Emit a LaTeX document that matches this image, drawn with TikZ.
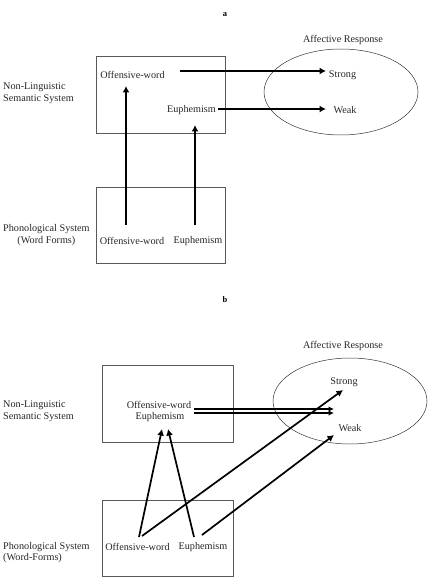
\documentclass[tikz,border=0pt]{standalone}
\usepackage{fontspec}
\setmainfont{Liberation Serif}
\usetikzlibrary{arrows.meta,shapes.geometric}
\begin{document}
\begin{tikzpicture}[x=1pt,y=-1pt,
  txt/.style={font=\fontsize{10.2}{11.5}\selectfont, inner sep=0pt, text=black!85},
  lbl/.style={font=\fontsize{10.2}{11.5}\selectfont, inner sep=0pt, text=black!85},
  panel/.style={font=\bfseries\fontsize{8.5}{9}\selectfont, inner sep=0pt},
  sysbox/.style={draw=black!65, line width=0.7pt, inner sep=0pt, minimum width=#1},
  resp/.style={draw=black!80, line width=0.5pt, ellipse, minimum width=154pt, minimum height=86pt, inner sep=0pt},
  arr/.style={line width=1.7pt, -{Latex[length=6.5pt,width=7pt]}},
  darr/.style={line width=1.2pt, -{Latex[length=5.5pt,width=5.5pt]}}]
\useasboundingbox (0,0) rectangle (430,580);
% ---------- panel a ----------
\node[panel] (pa) at (225,15) {a};
\node[txt] (aresp) at (343,40) {Affective Response};
\node[resp] (aell) at (341,92) {};
\node[sysbox=129pt, minimum height=77pt] (asem) at (160.5,94.5) {};
\node[sysbox=129pt, minimum height=76pt] (apho) at (160.5,225) {};
\node[lbl, anchor=west, align=left] (asemlbl) at (3,93) {Non-Linguistic\\Semantic System};
\node[lbl, anchor=west, align=center] (apholbl) at (3,235) {Phonological System\\(Word Forms)};
\node[txt] (aoff) at (132.5,75) {Offensive-word};
\node[txt] (aeup) at (191.5,110) {Euphemism};
\node[txt] (astr) at (342.5,75) {Strong};
\node[txt] (awk) at (345,110) {Weak};
\node[txt] (aoffl) at (132,241) {Offensive-word};
\node[txt] (aeupl) at (198,241) {Euphemism};
\coordinate (a1s) at (180,71); \coordinate (a1e) at (326,71);
\coordinate (a2s) at (218,109); \coordinate (a2e) at (326,109);
\coordinate (a3s) at (126,225); \coordinate (a3e) at (126,86);
\coordinate (a4s) at (195,225); \coordinate (a4e) at (195,125);
\draw[arr] (a1s) -- (a1e);
\draw[arr] (a2s) -- (a2e);
\draw[arr] (a3s) -- (a3e);
\draw[arr] (a4s) -- (a4e);
% ---------- panel b ----------
\node[panel] (pb) at (225,300) {b};
\node[txt] (bresp) at (343,346) {Affective Response};
\node[resp] (bell) at (350,401) {};
\node[sysbox=131pt, minimum height=77pt] (bsem) at (167.5,403.5) {};
\node[sysbox=131pt, minimum height=76pt] (bpho) at (167.5,538) {};
\node[lbl, anchor=west, align=left] (bsemlbl) at (3,411) {Non-Linguistic\\Semantic System};
\node[lbl, anchor=west, align=left] (bpholbl) at (3,552.5) {Phonological System\\(Word-Forms)};
\node[txt] (boff) at (159,405) {Offensive-word};
\node[txt] (beup) at (160,417) {Euphemism};
\node[txt] (bstr) at (344,382) {Strong};
\node[txt] (bwk) at (350,428) {Weak};
\node[txt] (boffl) at (137.5,547) {Offensive-word};
\node[txt] (beupl) at (203,547) {Euphemism};
\coordinate (b1s) at (194,409); \coordinate (b1e) at (334,409);
\coordinate (b2s) at (194,413); \coordinate (b2e) at (334,413);
\coordinate (b3s) at (142,536); \coordinate (b3e) at (343,390);
\coordinate (b4s) at (202,535); \coordinate (b4e) at (334,435);
\coordinate (b5s) at (139,537); \coordinate (b5e) at (162,429);
\coordinate (b6s) at (194,537); \coordinate (b6e) at (168,429);
\draw[darr] (b1s) -- (b1e);
\draw[darr] (b2s) -- (b2e);
\draw[arr] (b3s) -- (b3e);
\draw[arr] (b4s) -- (b4e);
\draw[arr] (b5s) -- (b5e);
\draw[arr] (b6s) -- (b6e);
\end{tikzpicture}
\end{document}
